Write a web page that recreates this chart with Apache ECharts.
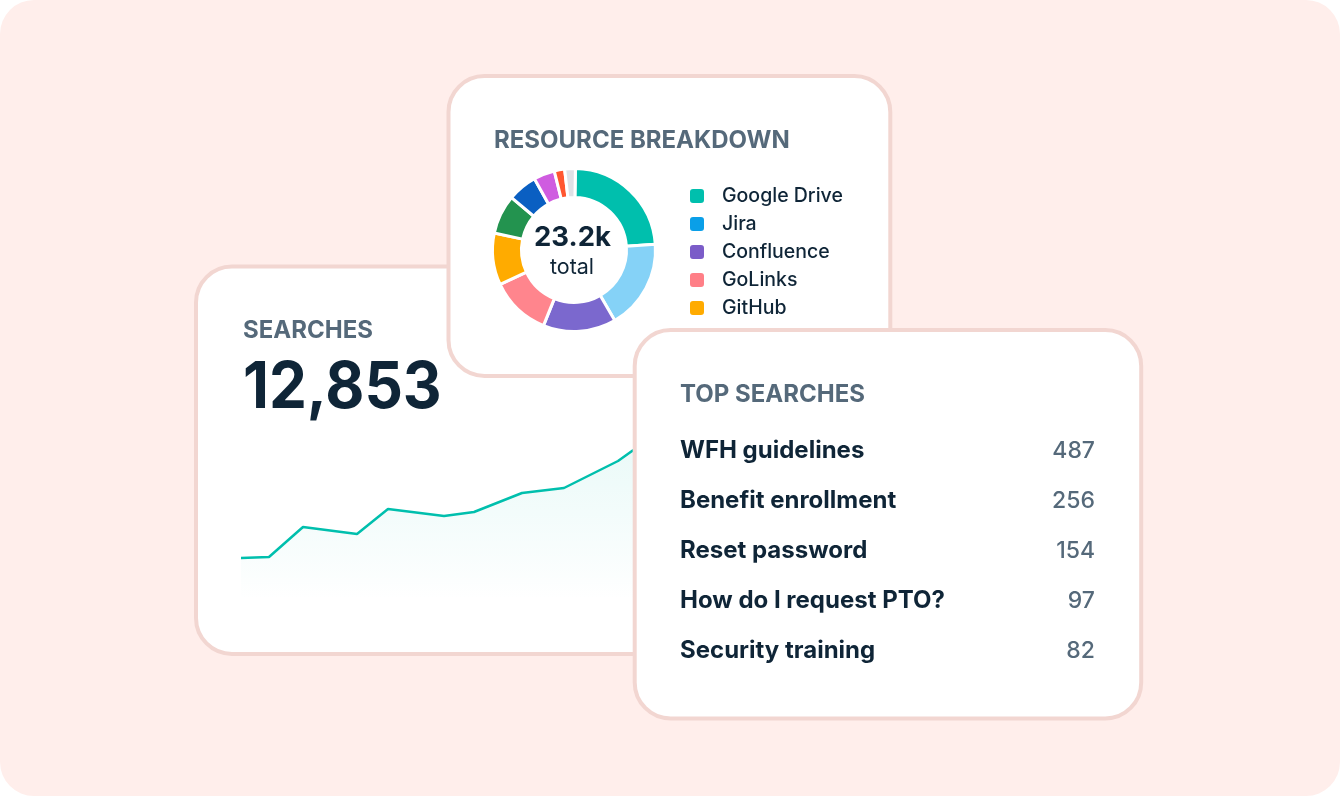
<!DOCTYPE html>
<html>
<head>
<meta charset="utf-8">
<style>html,body{margin:0;padding:0;background:#fff}#main{width:1340px;height:796px}</style>
<script src="https://cdn.jsdelivr.net/npm/echarts@6/dist/echarts.min.js"></script>
</head>
<body>
<div id="main"></div>
<script>
// line card: searches over time (the end of the line sits behind the top searches card)
var searchTitle = 'SEARCHES';
var searchTotal = '12,853';
var lineX = [0, 28, 62, 116, 147, 203, 233, 281, 323, 377, 391, 425, 445];
var lineY = [42, 43, 73, 66, 91, 84, 88, 107, 112, 139, 149, 163, 172];

// donut card
var donutTitle = 'RESOURCE BREAKDOWN';
var donutTotal = '23.2k';
var donutTotalLabel = 'total';
var sliceNames = ['Google Drive', 'Jira', 'Confluence', 'GoLinks', 'GitHub', 'Slack', 'Notion', 'Figma', 'Zendesk', 'Other'];
var sliceValues = [5478, 4124, 3351, 2771, 2384, 1804, 1353, 967, 477, 491];
var sliceColors = ['#00BFAD', '#85D2F7', '#7B68CE', '#FF858D', '#FFAB00', '#23934F', '#0A5FC2', '#CF5CE0', '#FF5630', '#DFE1E6'];
var legendNames = ['Google Drive', 'Jira', 'Confluence', 'GoLinks', 'GitHub'];
var legendColors = ['#00BFAD', '#0A9FE8', '#7B5CC8', '#FF7F87', '#FFAB00'];

// table card
var topTitle = 'TOP SEARCHES';
var topTerms = ['WFH guidelines', 'Benefit enrollment', 'Reset password', 'How do I request PTO?', 'Security training'];
var topCounts = [487, 256, 154, 97, 82];

var FONT = 'Inter';
var DARK = '#0F2537';
var GREY = '#55697A';

var chart = echarts.init(document.getElementById('main'));

function card(x, y, w, h, z) {
    return {
        type: 'rect', z: z, silent: true,
        shape: { x: x, y: y, width: w, height: h, r: 36 },
        style: { fill: '#fff', stroke: '#F2D6D1', lineWidth: 4 }
    };
}
function label(text, x, y, size, weight, color, z, align, scaleX) {
    return {
        type: 'text', z: z, silent: true, x: x, y: y, scaleX: scaleX || 1,
        style: {
            text: text, fill: color, fontFamily: FONT, fontSize: size, fontWeight: weight,
            align: align || 'left', verticalAlign: 'middle'
        }
    };
}

var elements = [
    // page panel
    { type: 'rect', z: 0, silent: true, shape: { x: 0, y: 0, width: 1340, height: 796, r: 34 }, style: { fill: '#FFEEEB' } },
    card(196, 266.5, 500, 387.5, 1),
    label(searchTitle, 243, 331, 24, 700, GREY, 1),
    label(searchTotal, 243, 389, 64, 700, DARK, 1, 'left', 0.94),
    card(448.5, 76, 441.8, 300, 3),
    label(donutTitle, 494, 141, 24, 700, GREY, 4),
    label(donutTotal, 572.5, 237.5, 27.5, 700, DARK, 5, 'center'),
    label(donutTotalLabel, 572, 268, 21.5, 400, DARK, 5, 'center'),
    card(634.7, 330, 506.5, 388.5, 6),
    label(topTitle, 680, 395, 24, 700, GREY, 7)
];
topTerms.forEach(function (term, i) {
    elements.push(label(term, 680, 451 + i * 50, 24, 700, DARK, 7));
    elements.push(label(String(topCounts[i]), 1095, 451 + i * 50, 23, 500, GREY, 7, 'right'));
});

var option = {
    animation: false,
    grid: { left: 241, top: 400, width: 500, height: 200 },
    xAxis: { type: 'value', min: 0, max: 500, show: false },
    yAxis: { type: 'value', min: 0, max: 200, show: false },
    legend: {
        z: 4, left: 683, top: 181, orient: 'vertical', selectedMode: false,
        icon: 'roundRect', itemWidth: 16, itemHeight: 16, itemGap: 8,
        textStyle: { color: DARK, fontFamily: FONT, fontSize: 19.5, fontWeight: 500, padding: [0, 0, 0, 12] },
        data: legendNames.map(function (n, i) { return { name: n, itemStyle: { color: legendColors[i] } }; })
    },
    graphic: { elements: elements },
    series: [
        {
            type: 'line', z: 2, silent: true, symbol: 'none',
            data: lineX.map(function (x, i) { return [x, lineY[i]]; }),
            lineStyle: { color: '#00BFAD', width: 2.5 },
            areaStyle: {
                color: new echarts.graphic.LinearGradient(0, 0, 0, 1, [
                    { offset: 0, color: 'rgba(0,191,173,0.13)' },
                    { offset: 0.85, color: 'rgba(0,191,173,0.025)' },
                    { offset: 1, color: 'rgba(0,191,173,0)' }
                ])
            }
        },
        {
            type: 'pie', z: 4, silent: true, center: [574, 250], radius: [52.5, 81.5],
            startAngle: 89, label: { show: false }, labelLine: { show: false },
            itemStyle: { borderColor: '#fff', borderWidth: 3 },
            data: sliceNames.map(function (n, i) { return { name: n, value: sliceValues[i], itemStyle: { color: sliceColors[i] } }; })
        }
    ]
};
chart.setOption(option);
</script>
</body>
</html>
